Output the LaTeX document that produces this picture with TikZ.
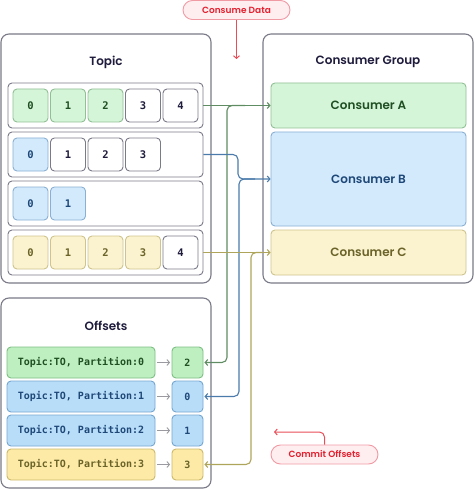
\documentclass[tikz,border=0pt]{standalone}
\usepackage{fontspec}
\setmainfont{Poppins}[BoldFont={Poppins SemiBold}]
\setmonofont{DejaVu Sans Mono}
\usetikzlibrary{arrows.meta}
\definecolor{navy}{HTML}{1E1B3C}
\definecolor{cbord}{HTML}{7A7A88}
\definecolor{gfill}{HTML}{D5F5D8}
\definecolor{gdraw}{HTML}{92C096}
\definecolor{gtext}{HTML}{1F4F22}
\definecolor{bfill}{HTML}{D3EAFD}
\definecolor{bdraw}{HTML}{8AB0D4}
\definecolor{btext}{HTML}{1E4878}
\definecolor{yfill}{HTML}{FBF3D0}
\definecolor{ydraw}{HTML}{CFC48E}
\definecolor{ytext}{HTML}{6B6328}
\definecolor{gsfill}{HTML}{BDEFC0}
\definecolor{gsdraw}{HTML}{7FBE84}
\definecolor{bsfill}{HTML}{B8DDF9}
\definecolor{bsdraw}{HTML}{76A6D0}
\definecolor{ysfill}{HTML}{FCEAA6}
\definecolor{ysdraw}{HTML}{CDB96A}
\definecolor{gline}{HTML}{5F8C62}
\definecolor{bline}{HTML}{4A7BAA}
\definecolor{yline}{HTML}{AFA55A}
\definecolor{redt}{HTML}{E3202E}
\definecolor{redf}{HTML}{FFEEF0}
\definecolor{redd}{HTML}{F09AA4}
\definecolor{grayar}{HTML}{9A9AA0}
\begin{document}
\begin{tikzpicture}[x=1pt,y=-1pt,
  container/.style={draw=cbord,line width=1.1pt,rounded corners=8pt,fill=white},
  titletext/.style={font=\fontsize{12}{14}\selectfont\bfseries,text=navy},
  rowbox/.style={draw=cbord,line width=0.9pt,rounded corners=4pt,fill=white,minimum width=195pt,minimum height=45pt,inner sep=0pt},
  cell/.style={line width=0.9pt,rounded corners=4pt,minimum width=35pt,minimum height=33pt,inner sep=0pt,font=\ttfamily\bfseries\fontsize{10.5}{12}\selectfont},
  wcell/.style={cell,draw=cbord,fill=white,text=navy},
  gcell/.style={cell,draw=gdraw,fill=gfill,text=gtext},
  bcell/.style={cell,draw=bdraw,fill=bfill,text=btext},
  ycell/.style={cell,draw=ydraw,fill=yfill,text=ytext},
  consumer/.style={line width=0.9pt,rounded corners=4pt,minimum width=195pt,inner sep=0pt,font=\fontsize{12}{14}\selectfont\bfseries},
  offrow/.style={line width=0.9pt,rounded corners=4pt,minimum width=148pt,minimum height=31pt,inner sep=0pt,font=\ttfamily\bfseries\fontsize{10}{12}\selectfont},
  offval/.style={line width=0.9pt,rounded corners=4pt,minimum width=31pt,minimum height=31pt,inner sep=0pt,font=\ttfamily\bfseries\fontsize{10}{12}\selectfont},
  gsty/.style={draw=gsdraw,fill=gsfill,text=gtext},
  bsty/.style={draw=bsdraw,fill=bsfill,text=btext},
  ysty/.style={draw=ysdraw,fill=ysfill,text=ytext},
  tip/.style={-{Straight Barb[length=2.6pt,width=6pt]}},
  conn/.style={tip,line width=1.1pt,rounded corners=5pt},
  pill/.style={draw=redd,fill=redf,line width=0.9pt,rounded corners=9.5pt,minimum width=107pt,minimum height=19pt,inner sep=0pt,text=redt,font=\fontsize{9}{11}\selectfont\bfseries},
]
\useasboundingbox (0,0) rectangle (474,489);

% containers
\node[container,minimum width=210pt,minimum height=249pt] (topic) at (106,158.5) {};
\node[titletext] (topicT) at (106,62) {Topic};
\node[container,minimum width=210pt,minimum height=249pt] (group) at (368,158.5) {};
\node[titletext] (groupT) at (368,62) {Consumer Group};
\node[container,minimum width=210pt,minimum height=190pt] (offsets) at (106,393) {};
\node[titletext] (offsetsT) at (106,326) {Offsets};

% partition rows
\node[rowbox] (row1) at (105.5,105.5) {};
\node[rowbox] (row2) at (105.5,154.5) {};
\node[rowbox] (row3) at (105.5,203.5) {};
\node[rowbox] (row4) at (105.5,252.5) {};

\node[gcell] (c10) at (30.5,105.5) {0};
\node[gcell] (c11) at (68,105.5) {1};
\node[gcell] (c12) at (105.5,105.5) {2};
\node[wcell] (c13) at (143,105.5) {3};
\node[wcell] (c14) at (180.5,105.5) {4};

\node[bcell] (c20) at (30.5,154.5) {0};
\node[wcell] (c21) at (68,154.5) {1};
\node[wcell] (c22) at (105.5,154.5) {2};
\node[wcell] (c23) at (143,154.5) {3};

\node[bcell] (c30) at (30.5,203.5) {0};
\node[bcell] (c31) at (68,203.5) {1};

\node[ycell] (c40) at (30.5,252.5) {0};
\node[ycell] (c41) at (68,252.5) {1};
\node[ycell] (c42) at (105.5,252.5) {2};
\node[ycell] (c43) at (143,252.5) {3};
\node[wcell] (c44) at (180.5,252.5) {4};

% consumers
\node[consumer,draw=gdraw,fill=gfill,text=gtext,minimum height=45pt] (consA) at (368.5,105.5) {Consumer A};
\node[consumer,draw=bdraw,fill=bfill,text=btext,minimum height=94pt] (consB) at (368.5,179) {Consumer B};
\node[consumer,draw=ydraw,fill=yfill,text=ytext,minimum height=45pt] (consC) at (368.5,252.5) {Consumer C};

% offsets rows
\node[offrow,gsty] (o0) at (81,362.5) {Topic:TO, Partition:0};
\node[offrow,bsty] (o1) at (81,396.5) {Topic:TO, Partition:1};
\node[offrow,bsty] (o2) at (81,430.5) {Topic:TO, Partition:2};
\node[offrow,ysty] (o3) at (81,464.5) {Topic:TO, Partition:3};
\node[offval,gsty] (v0) at (187.5,362.5) {2};
\node[offval,bsty] (v1) at (187.5,396.5) {0};
\node[offval,bsty] (v2) at (187.5,430.5) {1};
\node[offval,ysty] (v3) at (187.5,464.5) {3};
\foreach \i in {0,1,2,3}
  \draw[tip,draw=grayar,line width=0.9pt] ([xshift=2pt]o\i.east) -- ([xshift=-1.5pt]v\i.west);

% connectors
\coordinate (gj) at (245,105.5);
\coordinate (bj) at (255,179);
\coordinate (yj) at (262,252.5);
\draw[conn,draw=gline] (row1.east) -- (consA.west);
\draw[conn,draw=gline] (gj) -| (227,362.5) -- ([xshift=1pt]v0.east);
\draw[conn,draw=bline] (row2.east) -- (238,154.5) |- (consB.west);
\draw[conn,draw=bline] (bj) -| (239,396.5) -- ([xshift=1pt]v1.east);
\draw[conn,draw=yline] (row4.east) -- (consC.west);
\draw[conn,draw=yline] (yj) -| (251,464.5) -- ([xshift=1pt]v3.east);

% pills
\node[pill] (consume) at (236.5,10) {Consume Data};
\coordinate (consumeEnd) at (236.5,59);
\draw[tip,draw=redt!80,line width=1pt] (consume.south) -- (consumeEnd);
\node[pill] (commit) at (324.5,454.5) {Commit Offsets};
\coordinate (commitEnd) at (274,432);
\draw[tip,draw=redt!80,line width=1pt,rounded corners=5pt] (commit.north) |- (commitEnd);
\end{tikzpicture}
\end{document}
